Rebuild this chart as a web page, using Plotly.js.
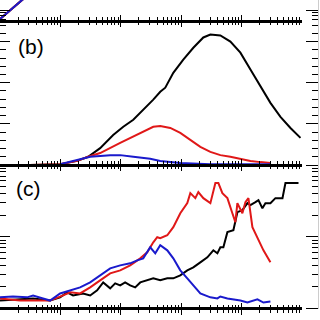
<!DOCTYPE html>
<html><head><meta charset="utf-8">
<script src="https://cdn.plot.ly/plotly-3.0.1.min.js"></script>
<style>html,body{margin:0;padding:0;background:#fff}#chart{width:320px;height:320px}</style>
</head><body><div id="chart"></div>
<script>
// ---- panel (a): only its lower edge is visible ----
const aX = [1, 2.32, 2.6];
const aY = [0.708, 1.47, 1.62];

// ---- panel (b) (linear y) ----
const bBlackX = [1, 3.15, 9.89, 18.9, 28.8, 45.5, 74.8, 110, 161, 235, 345, 450, 545, 740, 1083, 1588, 2325, 3040, 4450, 6520, 9550, 14000, 20500, 30000, 44000, 64400, 94400];
const bBlackY = [0, 0, 0.02, 0.1, 0.2, 0.41, 0.73, 0.93, 1.10, 1.34, 1.59, 1.78, 1.88, 2.24, 2.56, 2.85, 3.10, 3.17, 3.15, 3.0, 2.73, 2.32, 1.90, 1.51, 1.17, 0.90, 0.66];
const bRedX = [1, 3.15, 9.89, 18.9, 28.8, 45.5, 97.7, 210, 345, 450, 660, 966, 1416, 2073, 3040, 4450, 6520, 9550, 14000, 20500, 30000];
const bRedY = [0, 0, 0.02, 0.1, 0.2, 0.29, 0.54, 0.78, 0.93, 0.95, 0.90, 0.78, 0.61, 0.44, 0.32, 0.24, 0.20, 0.15, 0.10, 0.07, 0.05];
const bBlueX = [9.89, 18.9, 31.1, 66.7, 97.7, 161, 307, 450, 966, 3040, 30000];
const bBlueY = [0.02, 0.12, 0.2, 0.24, 0.24, 0.2, 0.15, 0.1, 0.05, 0.02, 0.02];

// ---- panel (c) (log y) ----
const cBlueX = [1, 1.64, 2.80, 3.53, 5.16, 6.75, 9.89, 14.5, 21.2, 31.1, 45.5, 66.7, 97.7, 143, 187, 235, 307, 372, 450, 588, 740, 966, 1262, 1588, 2073, 3040, 3970, 4450, 5820, 9550, 12480, 18290, 23000, 30000];
const cBlueY = [0.0143, 0.0147, 0.0143, 0.0152, 0.0138, 0.0129, 0.0162, 0.0179, 0.0197, 0.0231, 0.0290, 0.0362, 0.0399, 0.0426, 0.0469, 0.0500, 0.0713, 0.0587, 0.0761, 0.0647, 0.0500, 0.0340, 0.0263, 0.0210, 0.0162, 0.0143, 0.0138, 0.0147, 0.0138, 0.0129, 0.0121, 0.0134, 0.0121, 0.0125];
const cRedX = [1, 2.15, 4.61, 6.75, 11.1, 14.5, 21.2, 31.1, 45.5, 66.7, 97.7, 143, 210, 274, 345, 401, 450, 588, 740, 966, 1262, 1416, 1714, 1922, 2325, 3040, 3680, 4125, 4805, 5820, 7035, 7890, 8515, 10300, 11560, 12970, 15100, 18290, 23000, 30000];
const cRedY = [0.0138, 0.0129, 0.0129, 0.0129, 0.0152, 0.0168, 0.0162, 0.0197, 0.0247, 0.0309, 0.0340, 0.0399, 0.0500, 0.0607, 0.0838, 0.0984, 0.0953, 0.105, 0.136, 0.213, 0.294, 0.406, 0.345, 0.419, 0.345, 0.294, 0.560, 0.560, 0.406, 0.345, 0.213, 0.160, 0.294, 0.213, 0.304, 0.345, 0.136, 0.0984, 0.0647, 0.0440];
const cBlackX = [1, 3.53, 6.75, 9.89, 12.9, 16.2, 23.8, 31.1, 40.6, 51.1, 66.7, 80.7, 97.7, 118, 143, 173, 210, 274, 345, 450, 588, 740, 966, 1262, 1588, 2073, 2711, 3405, 3970, 4450, 4990, 5820, 7310, 8515, 10300, 12480, 14000, 16940, 19000, 22100, 24800, 30000, 36300, 47500, 53200, 64400, 87500];
const cBlackY = [0.0129, 0.0138, 0.0129, 0.0143, 0.0168, 0.0152, 0.0162, 0.0152, 0.0179, 0.0231, 0.0191, 0.0224, 0.0210, 0.0231, 0.0210, 0.0197, 0.0231, 0.0247, 0.0263, 0.0247, 0.0263, 0.0263, 0.0290, 0.0340, 0.0374, 0.0440, 0.0517, 0.0647, 0.0587, 0.0713, 0.0713, 0.116, 0.123, 0.220, 0.235, 0.294, 0.276, 0.304, 0.324, 0.250, 0.294, 0.294, 0.345, 0.345, 0.560, 0.560, 0.560];

const panelLabels = ['(b)', '(c)'];

const BLACK = '#000000', RED = '#e01818', BLUE = '#1a1acc';
const LW = 2;

function line(x, y, color, xa, ya) {
  return {x: x, y: y, type: 'scatter', mode: 'lines', line: {color: color, width: LW},
          xaxis: xa, yaxis: ya, hoverinfo: 'skip'};
}
function dummy(xa, ya, yv) {
  return {x: [0.5], y: [yv], type: 'scatter', mode: 'markers', marker: {opacity: 0},
          xaxis: xa, yaxis: ya, hoverinfo: 'skip'};
}

const data = [
  line(aX, aY, BLACK, 'x', 'y'),
  line(aX, aY, RED, 'x', 'y'),
  line(aX, aY, BLUE, 'x', 'y'),
  line(bBlackX, bBlackY, BLACK, 'x2', 'y2'),
  line(bRedX, bRedY, RED, 'x2', 'y2'),
  line(bBlueX, bBlueY, BLUE, 'x2', 'y2'),
  line(cBlackX, cBlackY, BLACK, 'x3', 'y3'),
  line(cRedX, cRedY, RED, 'x3', 'y3'),
  line(cBlueX, cBlueY, BLUE, 'x3', 'y3'),
  dummy('x4', 'y4', 0.5),
  dummy('x5', 'y5', 1),
  dummy('x5', 'y6', 1),
  dummy('x5', 'y7', 0.1)
];

const XDOM = [0, 302 / 320];
function xa(anchor, extra) {
  return Object.assign({
    type: 'log', range: [0, 5], domain: XDOM, anchor: anchor, dtick: 1,
    ticks: 'inside', ticklen: 6, tickwidth: 1, tickcolor: '#000',
    showticklabels: false, showgrid: false, zeroline: false,
    showline: true, linecolor: '#000', linewidth: 1.5,
    minor: {ticks: 'inside', ticklen: 4, dtick: 'D1', tickcolor: '#000', tickwidth: 1, showgrid: false}
  }, extra || {});
}
function ya(anchor, dom, extra) {
  return Object.assign({
    domain: dom, anchor: anchor, ticks: 'inside', ticklen: 10, tickwidth: 1, tickcolor: '#000',
    showticklabels: false, showgrid: false, zeroline: false, showline: false
  }, extra);
}
const F = px => 1 - px / 320;
const DA = [F(21), 1], DB = [F(165), F(21)], DC = [F(308.5), F(165)], DD = [0, F(308.5)];

const logMinor = {ticks: 'inside', ticklen: 6, dtick: 'D1', tickcolor: '#000', tickwidth: 1, showgrid: false};
const linMinor = {ticks: 'inside', ticklen: 6, dtick: 0.2, tickcolor: '#000', tickwidth: 1, showgrid: false};
const logMinorOut = Object.assign({}, logMinor, {ticks: 'outside'});
const linMinorOut = Object.assign({}, linMinor, {ticks: 'outside'});

const layout = {
  width: 320, height: 320, margin: {l: 0, r: 0, t: 0, b: 0, pad: 0},
  paper_bgcolor: '#fff', plot_bgcolor: 'rgba(0,0,0,0)', showlegend: false,
  xaxis: xa('y'),
  xaxis2: xa('y2', {mirror: 'ticks'}),
  xaxis3: xa('y3', {mirror: 'ticks'}),
  xaxis4: xa('y4', {side: 'top'}),
  xaxis5: {domain: [318.5 / 320, 1], anchor: 'y6', visible: false, range: [0, 1]},
  yaxis: ya('x', DA, {type: 'log', range: [-0.183, 0.167], dtick: 1, minor: logMinor}),
  yaxis2: ya('x2', DB, {range: [0, 3.5], dtick: 1, minor: linMinor}),
  yaxis3: ya('x3', DC, {type: 'log', range: [-2, 0], dtick: 1, minor: logMinor}),
  yaxis4: {domain: DD, anchor: 'x4', visible: false, range: [0, 1]},
  yaxis5: ya('x5', DA, {type: 'log', range: [-0.183, 0.167], dtick: 1, ticks: 'outside', ticklen: 12, minor: logMinorOut, showline: true, linecolor: '#cccccc'}),
  yaxis6: ya('x5', DB, {range: [0, 3.5], dtick: 1, ticks: 'outside', ticklen: 12, minor: linMinorOut, showline: true, linecolor: '#cccccc'}),
  yaxis7: ya('x5', DC, {type: 'log', range: [-2, 0], dtick: 1, ticks: 'outside', ticklen: 12, minor: logMinorOut, showline: true, linecolor: '#cccccc'}),
  annotations: [
    {text: panelLabels[0], xref: 'paper', yref: 'paper', x: 16 / 320, y: F(46), xanchor: 'left', yanchor: 'middle',
     showarrow: false, font: {family: 'Liberation Sans, Arial, sans-serif', size: 21, color: '#000'}},
    {text: panelLabels[1], xref: 'paper', yref: 'paper', x: 14 / 320, y: F(188), xanchor: 'left', yanchor: 'middle',
     showarrow: false, font: {family: 'Liberation Sans, Arial, sans-serif', size: 21, color: '#000'}}
  ]
};

Plotly.newPlot('chart', data, layout, {staticPlot: true, displayModeBar: false});
</script>
</body></html>
